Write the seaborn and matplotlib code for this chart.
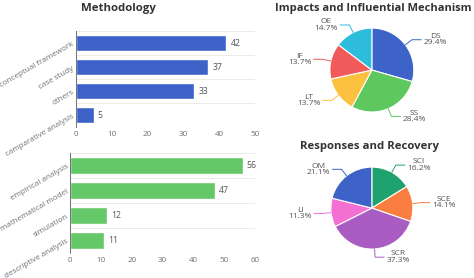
import numpy as np
import pandas as pd
import matplotlib
matplotlib.use("Agg")
import matplotlib.pyplot as plt
import seaborn as sns

# methodology bars
method_cats = ["conceptual framework", "case study", "others", "camparative analysis"]
method_vals = [42, 37, 33, 5]
analysis_cats = ["empirical analysis", "mathematical model", "simulation", "descriptive analysis"]
analysis_vals = [56, 47, 12, 11]

# pies (counts)
impact_labels = ["DS", "SS", "LT", "IF", "OE"]
impact_vals = [30, 29, 14, 14, 15]
impact_colors = ["#3d63c9", "#5ec85f", "#fcc23f", "#f2595b", "#2ebcdc"]
resp_labels = ["SCI", "SCE", "SCR", "LI", "OM"]
resp_vals = [23, 20, 53, 16, 30]
resp_colors = ["#1ea36e", "#fa7e3f", "#a95cc2", "#f46fd2", "#3d63c9"]

sns.set_style("white")
plt.rcParams["font.family"] = ["Open Sans", "DejaVu Sans"]

TXT = "#6e7079"
TITLE = "#333333"

fig = plt.figure(figsize=(4.74, 2.78), dpi=100)


def bar_panel(rect, cats, vals, color, xmax):
    ax = fig.add_axes(rect)
    df = pd.DataFrame({"cat": cats, "val": vals})
    sns.barplot(data=df, y="cat", x="val", color=color, width=0.66,
                saturation=1, ax=ax, orient="h")
    ax.set_xlim(0, xmax)
    ax.set_ylim(len(cats) - 0.5, -0.5)
    ax.set_xlabel("")
    ax.set_ylabel("")
    ax.set_xticks(np.arange(0, xmax + 1, 10))
    ax.tick_params(axis="x", length=0, labelsize=5.8, colors=TXT, pad=3)
    ax.tick_params(axis="y", length=0, labelsize=5.8, colors=TXT, pad=2)
    for lab in ax.get_yticklabels():
        lab.set_rotation(30)
        lab.set_ha("right")
        lab.set_rotation_mode("anchor")
    bounds = np.arange(len(cats) + 1) - 0.5
    ax.set_yticks(bounds, minor=True)
    ax.tick_params(axis="y", which="minor", length=3, color="#6e7079", width=0.6)
    for b in bounds:
        ax.axhline(b, color="#e6e6e6", lw=0.6, zorder=0)
    for s in ["top", "right", "bottom"]:
        ax.spines[s].set_visible(False)
    ax.spines["left"].set_color("#6e7079")
    ax.spines["left"].set_linewidth(0.7)
    ax.bar_label(ax.containers[0], padding=3, fontsize=6.3, color="#555555")
    return ax


ax1 = bar_panel([0.160, 0.543, 0.378, 0.345], method_cats, method_vals, "#3d63c9", 50)
ax2 = bar_panel([0.148, 0.090, 0.390, 0.360], analysis_cats, analysis_vals, "#65c868", 60)


def pie_panel(rect, vals, labels, colors):
    ax = fig.add_axes(rect)
    total = sum(vals)
    wedges, _ = ax.pie(vals, colors=colors, startangle=90, counterclock=False,
                       radius=1, wedgeprops=dict(edgecolor="white", linewidth=0.8))
    for w, lab, v in zip(wedges, labels, vals):
        ang = np.deg2rad((w.theta1 + w.theta2) / 2)
        x0, y0 = np.cos(ang), np.sin(ang)
        x1, y1 = 1.2 * x0, 1.2 * y0
        side = 1 if x0 >= 0 else -1
        x2 = x1 + side * 0.22
        ax.plot([x0, x1, x2], [y0, y1, y1], color=w.get_facecolor(), lw=0.7,
                clip_on=False)
        ax.text(x2 + side * 0.05, y1, f"{lab}\n{v / total * 100:.1f}%",
                ha="left" if side > 0 else "right", va="center",
                fontsize=6, color="#555555", linespacing=0.9,
                multialignment="center")
    ax.set_xlim(-1, 1)
    ax.set_ylim(-1, 1)
    ax.set_aspect("equal")
    ax.axis("off")
    return ax


pie_panel([0.696, 0.597, 0.177, 0.302], impact_vals, impact_labels, impact_colors)
pie_panel([0.698, 0.104, 0.173, 0.295], resp_vals, resp_labels, resp_colors)

fig.text(118 / 474, 1 - 9 / 278, "Methodology", ha="center", va="center",
         fontsize=8.2, fontweight="bold", color=TITLE)
fig.text(373 / 474, 1 - 9 / 278, "Impacts and Influential Mechanism", ha="center",
         va="center", fontsize=8, fontweight="bold", color=TITLE)
fig.text(370 / 474, 1 - 146 / 278, "Responses and Recovery", ha="center",
         va="center", fontsize=8.2, fontweight="bold", color=TITLE)

fig.savefig("out.png", dpi=100)
